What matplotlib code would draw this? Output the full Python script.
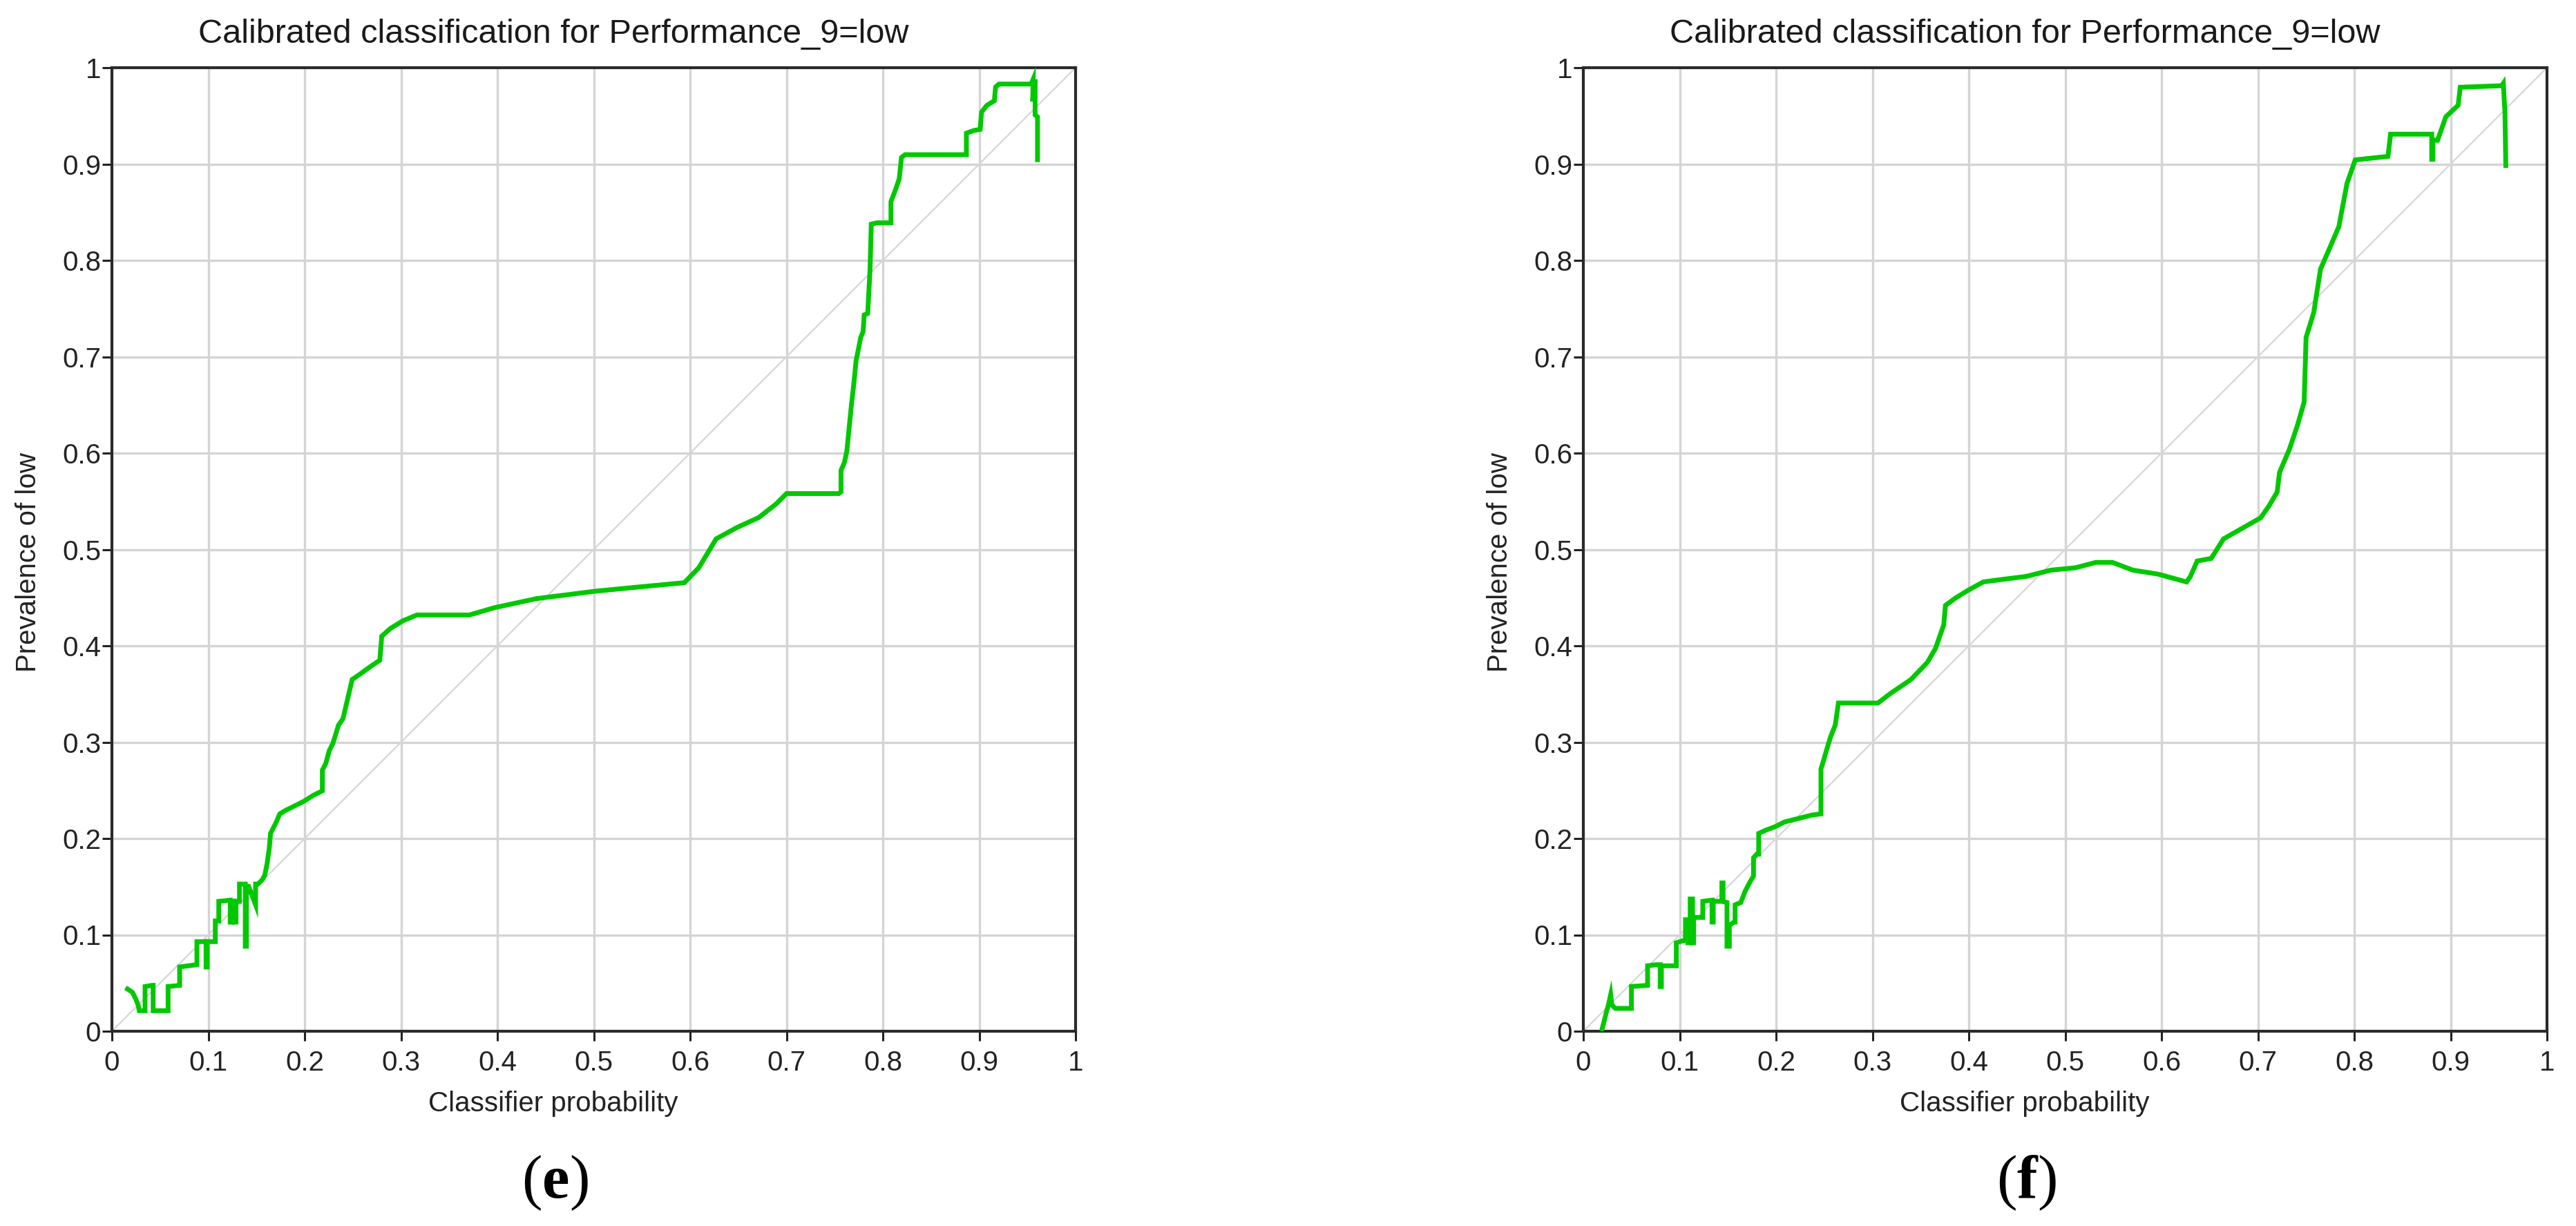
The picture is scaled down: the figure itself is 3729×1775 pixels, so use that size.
import matplotlib
matplotlib.use("Agg")
import matplotlib.pyplot as plt

plt.rcParams["font.family"] = ["Liberation Sans", "DejaVu Sans"]
plt.rcParams["mathtext.fontset"] = "custom"
plt.rcParams["mathtext.rm"] = "Liberation Serif"
plt.rcParams["mathtext.bf"] = "Liberation Serif:bold"

title = "Calibrated classification for Performance_9=low"
x_label = "Classifier probability"
y_label = "Prevalence of low"
panel_letters = ["e", "f"]

tick_values = [0, 0.1, 0.2, 0.3, 0.4, 0.5, 0.6, 0.7, 0.8, 0.9, 1]
tick_labels = ["0", "0.1", "0.2", "0.3", "0.4", "0.5", "0.6", "0.7", "0.8", "0.9", "1"]

# panel (e) calibration curve
e_x = [0.0141, 0.0213, 0.0249, 0.0272, 0.0284, 0.0344, 0.0344, 0.0416, 0.0428,
       0.0428, 0.0583, 0.0583, 0.0703, 0.0703, 0.0882, 0.0882, 0.0977, 0.0977,
       0.0989, 0.0989, 0.1073, 0.1073, 0.1109, 0.1109, 0.1228, 0.1228, 0.1252,
       0.1252, 0.1264, 0.1264, 0.1288, 0.1288, 0.1324, 0.1324, 0.1384, 0.1384,
       0.1396, 0.1396, 0.1419, 0.1491, 0.1491, 0.1515, 0.1563, 0.1587, 0.1611,
       0.1634, 0.1646, 0.1682, 0.1706, 0.1742, 0.1802, 0.1897, 0.1993, 0.2088,
       0.2184, 0.2184, 0.2220, 0.2256, 0.2292, 0.2351, 0.2398, 0.2493, 0.258,
       0.269, 0.278, 0.280, 0.289, 0.302, 0.3165, 0.371, 0.397, 0.4408, 0.501,
       0.543, 0.594, 0.609, 0.627, 0.649, 0.671, 0.689, 0.700, 0.7542, 0.7566,
       0.7566, 0.7602, 0.7627, 0.765, 0.7675, 0.770, 0.7723, 0.7747, 0.777,
       0.7795, 0.7807, 0.7843, 0.7867, 0.7880, 0.794, 0.8084, 0.8084, 0.813,
       0.817, 0.8193, 0.823, 0.8867, 0.8867, 0.894, 0.901, 0.9024, 0.908,
       0.9157, 0.917, 0.9205, 0.954, 0.956, 0.9555, 0.958, 0.958, 0.9605, 0.9605]
e_y = [0.0452, 0.0404, 0.0332, 0.0272, 0.0213, 0.0213, 0.0464, 0.0476, 0.0476,
       0.0213, 0.0213, 0.0464, 0.0476, 0.0667, 0.0691, 0.0930, 0.0930, 0.0667,
       0.0667, 0.0930, 0.0930, 0.1145, 0.1145, 0.1348, 0.1360, 0.1133, 0.1133,
       0.1348, 0.1348, 0.1133, 0.1133, 0.1348, 0.1348, 0.1527, 0.1527, 0.0882,
       0.0882, 0.1503, 0.1503, 0.1312, 0.1527, 0.1527, 0.1575, 0.1622, 0.1742,
       0.1909, 0.2053, 0.2124, 0.2172, 0.2256, 0.2292, 0.2339, 0.2387, 0.2447,
       0.2495, 0.2710, 0.2781, 0.2913, 0.2984, 0.3176, 0.3244, 0.365, 0.371,
       0.379, 0.385, 0.410, 0.418, 0.426, 0.432, 0.432, 0.4396, 0.449, 0.4566,
       0.4607, 0.4655, 0.481, 0.511, 0.523, 0.533, 0.547, 0.558, 0.558, 0.5597,
       0.582, 0.5906, 0.6024, 0.626, 0.651, 0.673, 0.6965, 0.708, 0.720,
       0.726, 0.7435, 0.745, 0.7906, 0.8376, 0.839, 0.839, 0.861, 0.873,
       0.8847, 0.9068, 0.9097, 0.9097, 0.932, 0.9347, 0.936, 0.9538, 0.961,
       0.9656, 0.980, 0.983, 0.983, 0.988, 0.965, 0.988, 0.951, 0.949, 0.902]

# panel (f) calibration curve
f_x = [0.0189, 0.0213, 0.0237, 0.0260, 0.0284, 0.0296, 0.0332, 0.0499, 0.0499,
       0.0667, 0.0667, 0.0750, 0.0798, 0.0798, 0.0810, 0.0810, 0.0965, 0.0965,
       0.1037, 0.1060, 0.1060, 0.1085, 0.1085, 0.1109, 0.1109, 0.1133, 0.1133,
       0.1145, 0.1145, 0.1240, 0.1240, 0.1336, 0.1336, 0.1348, 0.1348, 0.1438,
       0.1438, 0.1450, 0.1450, 0.1491, 0.1491, 0.1515, 0.1515, 0.1563, 0.1575,
       0.1575, 0.1634, 0.1680, 0.1730, 0.1766, 0.1766, 0.1800, 0.1820, 0.1820,
       0.1897, 0.1993, 0.2088, 0.2232, 0.2375, 0.2466, 0.2466, 0.2495, 0.2530,
       0.2566, 0.2614, 0.2647, 0.3057, 0.3185, 0.340, 0.357, 0.3655, 0.374,
       0.3758, 0.3868, 0.400, 0.415, 0.4338, 0.4594, 0.485, 0.5107, 0.532,
       0.549, 0.5704, 0.596, 0.626, 0.630, 0.637, 0.6516, 0.6644, 0.6815,
       0.7028, 0.7114, 0.720, 0.7225, 0.7327, 0.741, 0.748, 0.750, 0.758,
       0.765, 0.7737, 0.784, 0.7925, 0.801, 0.835, 0.8377, 0.8804, 0.8804,
       0.8816, 0.8816, 0.8864, 0.8907, 0.895, 0.9035, 0.9078, 0.910, 0.953,
       0.9547, 0.9564, 0.9573]
f_y = [0.0, 0.0093, 0.0189, 0.0272, 0.0380, 0.0272, 0.0237, 0.0237, 0.0464,
       0.0476, 0.0679, 0.0690, 0.0690, 0.0464, 0.0464, 0.0679, 0.0679, 0.0918,
       0.0941, 0.0941, 0.1157, 0.1157, 0.0918, 0.0918, 0.1372, 0.1372, 0.0918,
       0.0918, 0.1181, 0.1181, 0.1348, 0.1360, 0.1133, 0.1133, 0.1348, 0.1348,
       0.1539, 0.1539, 0.1348, 0.1336, 0.0882, 0.0882, 0.1097, 0.1133, 0.1133,
       0.1312, 0.1336, 0.1455, 0.1550, 0.1610, 0.1800, 0.1838, 0.1838, 0.2053,
       0.2088, 0.2124, 0.2172, 0.2208, 0.2244, 0.2256, 0.2722, 0.2817, 0.2937,
       0.3056, 0.3176, 0.3406, 0.3406, 0.3504, 0.365, 0.3828, 0.3974, 0.4217,
       0.442, 0.450, 0.458, 0.4663, 0.4688, 0.472, 0.4785, 0.481, 0.4866,
       0.4866, 0.4785, 0.4745, 0.4663, 0.472, 0.488, 0.4907, 0.511, 0.5207,
       0.5328, 0.545, 0.5596, 0.580, 0.604, 0.6286, 0.653, 0.720, 0.746,
       0.791, 0.811, 0.835, 0.880, 0.9043, 0.908, 0.931, 0.931, 0.905,
       0.905, 0.925, 0.9246, 0.9367, 0.949, 0.957, 0.961, 0.9797, 0.9813,
       0.9838, 0.953, 0.896]

curves = [(e_x, e_y), (f_x, f_y)]

fig = plt.figure(figsize=(37.29, 17.75), dpi=100)
axes_left = [162 / 3729, 2292 / 3729]
letter_x = [803 / 3729, 2933 / 3729]

for i, (cx, cy) in enumerate(curves):
    ax = fig.add_axes([axes_left[i], 1 - 1493 / 1775, 1395 / 3729, 1395 / 1775])
    ax.set_xlim(0, 1)
    ax.set_ylim(0, 1)
    ax.grid(True, color="#d4d4d4", linewidth=2.4)
    ax.set_axisbelow(True)
    ax.plot([0, 1], [0, 1], color="#d6d6d6", linewidth=1.6, zorder=2)
    ax.plot(cx, cy, color="#00c800", linewidth=5, zorder=3,
            solid_joinstyle="miter", solid_capstyle="butt")

    ax.set_xticks(tick_values)
    ax.set_xticklabels(tick_labels)
    ax.set_yticks(tick_values)
    ax.set_yticklabels(tick_labels)
    ax.tick_params(direction="out", length=10, width=2.2, colors="#222222",
                   labelsize=29)
    ax.tick_params(axis="x", pad=9.5)
    ax.tick_params(axis="y", pad=1.5)
    for side in ax.spines.values():
        side.set_linewidth(3)
        side.set_color("#2a2a2a")

    ax.text(0.458, 1 + 36 / 1395, title, transform=ax.transAxes,
            ha="center", va="baseline", fontsize=35, color="#1a1a1a")
    ax.set_xlabel(x_label, fontsize=29, color="#222222")
    ax.xaxis.set_label_coords(0.458, -0.062)
    ax.set_ylabel(y_label, fontsize=29, color="#222222")
    ax.yaxis.set_label_coords(-0.073, 0.487)

    fig.text(letter_x[i], 0.035, "(" + r"$\mathbf{" + panel_letters[i] + "}$" + ")",
             ha="center", va="center", fontsize=64, family="Liberation Serif",
             color="black")

fig.savefig("out.png", dpi=100, facecolor="white")
